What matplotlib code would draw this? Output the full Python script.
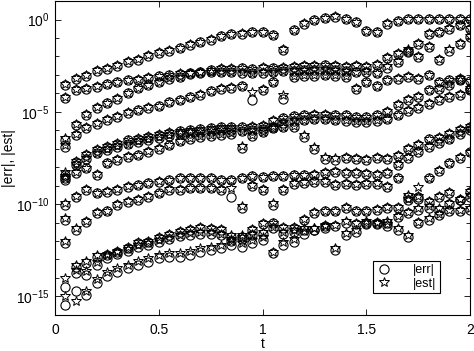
import matplotlib
matplotlib.use('Agg')
import matplotlib.pyplot as plt
from matplotlib.ticker import FixedLocator, FixedFormatter, NullFormatter
from matplotlib.lines import Line2D
import numpy as np

plt.rcParams['font.family'] = ['Liberation Sans', 'DejaVu Sans']
plt.rcParams['mathtext.default'] = 'regular'

# time instants
t = [0.05, 0.10, 0.15, 0.20, 0.25, 0.30, 0.35, 0.40, 0.45, 0.50,
     0.55, 0.60, 0.65, 0.70, 0.75, 0.80, 0.85, 0.90, 0.95, 1.00,
     1.05, 1.10, 1.15, 1.20, 1.25, 1.30, 1.35, 1.40, 1.45, 1.50,
     1.55, 1.60, 1.65, 1.70, 1.75, 1.80, 1.85, 1.90, 1.95, 2.00]

# log10 of |err| and |est| for each component
err_s1 = [-3.57, -3.23, -3.06, -2.80, -2.66, -2.50, -2.28, -2.18, -1.95, -1.80,
          -1.68, -1.55, -1.37, -1.23, -1.10, -0.92, -0.80, -0.77, -0.70, -0.70,
          -0.86, -1.64, -0.59, -0.23, -0.05, 0.09, 0.16, 0.04, -0.15, -0.63,
          -0.69, -0.23, -0.09, 0.04, 0.04, 0.04, 0.04, 0.04, 0.04, 0.04]
est_s1 = [-3.50, -3.18, -3.02, -2.76, -2.62, -2.46, -2.25, -2.15, -1.93, -1.78,
          -1.66, -1.53, -1.35, -1.21, -1.08, -0.90, -0.78, -0.75, -0.68, -0.68,
          -0.84, -1.58, -0.57, -0.21, -0.03, 0.10, 0.17, 0.05, -0.13, -0.61,
          -0.67, -0.21, -0.08, 0.05, 0.05, 0.05, 0.05, 0.05, 0.05, 0.05]

err_s2 = [-4.27, -3.84, -3.75, -3.66, -3.51, -3.39, -3.30, -3.27, -3.15, -3.08,
          -3.03, -2.94, -2.90, -2.88, -2.86, -2.85, -2.85, -2.88, -2.90, -2.88,
          -2.85, -2.80, -2.78, -2.75, -2.72, -2.72, -2.75, -2.80, -2.85, -2.82,
          -2.90, -2.60, -2.30, -1.77, -2.04, -1.50, -2.20, -1.68, -1.32, -0.95]
est_s2 = [-4.20, -3.78, -3.70, -3.62, -3.48, -3.36, -3.28, -3.24, -3.13, -3.06,
          -3.01, -2.92, -2.88, -2.86, -2.84, -2.83, -2.83, -2.86, -2.88, -2.86,
          -2.83, -2.78, -2.76, -2.73, -2.70, -2.70, -2.73, -2.78, -2.83, -2.80,
          -2.88, -2.50, -2.25, -1.72, -1.98, -1.45, -2.12, -1.62, -1.28, -0.92]

err_s3 = [-6.55, -5.73, -5.19, -4.77, -4.54, -4.28, -4.00, -3.73, -3.57, -3.39,
          -3.21, -3.12, -2.94, -2.85, -2.76, -2.67, -2.67, -2.65, -2.70, -2.60,
          -2.62, -2.60, -2.55, -2.50, -2.50, -2.48, -2.50, -2.55, -2.50, -2.55,
          -2.45, -2.10, -1.86, -1.68, -1.32, -0.77, -0.69, -0.50, -0.32, -0.50]
est_s3 = [-6.40, -5.65, -5.12, -4.72, -4.50, -4.25, -3.97, -3.70, -3.55, -3.37,
          -3.19, -3.10, -2.92, -2.83, -2.74, -2.65, -2.65, -2.63, -2.68, -2.58,
          -2.60, -2.58, -2.53, -2.48, -2.48, -2.46, -2.48, -2.53, -2.48, -2.53,
          -2.40, -2.02, -1.80, -1.62, -1.25, -0.72, -0.65, -0.47, -0.30, -0.47]

err_s4 = [-6.90, -6.27, -5.90, -5.67, -5.43, -5.27, -5.06, -4.92, -4.77, -4.70,
          -4.47, -4.38, -4.20, -4.07, -3.88, -3.75, -3.70, -3.62, -4.38, -3.80,
          -3.39, -4.29, -3.10, -3.05, -3.05, -3.00, -3.05, -3.10, -3.75, -3.39,
          -3.62, -3.30, -3.20, -3.10, -3.20, -3.00, -3.40, -3.30, -3.20, -3.35]
est_s4 = [-6.80, -6.20, -5.85, -5.62, -5.40, -5.24, -5.03, -4.90, -4.75, -4.68,
          -4.45, -4.36, -4.18, -4.05, -3.86, -3.73, -3.68, -3.60, -3.93, -3.78,
          -3.37, -4.10, -3.08, -3.03, -3.03, -2.98, -3.03, -3.08, -3.70, -3.37,
          -3.60, -3.28, -3.18, -3.08, -3.18, -2.98, -3.38, -3.28, -3.18, -3.33]

err_s5 = [-8.43, -7.71, -7.35, -7.08, -6.90, -6.72, -6.54, -6.45, -6.36, -6.23,
          -6.13, -6.05, -6.00, -5.95, -5.90, -5.85, -5.85, -5.85, -5.80, -5.75,
          -5.50, -5.35, -5.25, -5.20, -5.15, -5.15, -5.20, -5.20, -5.30, -5.30,
          -5.20, -5.00, -4.65, -4.38, -4.20, -3.84, -3.75, -3.57, -3.30, -3.75]
est_s5 = [-8.27, -7.65, -7.30, -7.04, -6.86, -6.69, -6.51, -6.42, -6.33, -6.20,
          -6.10, -6.02, -5.97, -5.92, -5.87, -5.82, -5.82, -5.82, -5.77, -5.72,
          -5.47, -5.32, -5.22, -5.17, -5.12, -5.12, -5.17, -5.17, -5.27, -5.27,
          -5.17, -4.97, -4.60, -4.33, -4.15, -3.80, -3.70, -3.52, -3.26, -3.70]

err_s6 = [-8.70, -8.34, -8.07, -8.43, -7.80, -7.62, -7.44, -7.35, -7.17, -6.99,
          -6.81, -6.60, -6.45, -6.35, -6.30, -6.25, -6.20, -6.97, -6.30, -6.10,
          -5.80, -5.60, -5.50, -5.45, -5.40, -5.40, -5.45, -5.50, -5.55, -5.55,
          -5.50, -5.40, -5.20, -4.95, -4.77, -4.60, -4.38, -4.20, -4.10, -3.84]
est_s6 = [-8.60, -8.28, -8.02, -8.35, -7.76, -7.58, -7.41, -7.32, -7.14, -6.96,
          -6.78, -6.57, -6.42, -6.32, -6.27, -6.22, -6.17, -6.85, -6.27, -6.07,
          -5.77, -5.57, -5.47, -5.42, -5.37, -5.37, -5.42, -5.47, -5.52, -5.52,
          -5.47, -5.37, -5.15, -4.90, -4.72, -4.55, -4.33, -4.15, -4.05, -3.80]

err_s7 = [-8.60, -7.90, -7.55, -7.25, -7.05, -6.90, -6.75, -6.62, -6.52, -6.40,
          -6.30, -6.20, -6.15, -6.10, -6.05, -6.00, -6.00, -6.05, -6.00, -5.95,
          -5.90, -5.85, -5.80, -6.36, -6.99, -7.53, -7.62, -7.50, -7.55, -7.60,
          -7.50, -7.55, -7.40, -7.00, -6.80, -6.50, -6.40, -6.20, -6.00, -5.80]
est_s7 = [-8.50, -7.85, -7.50, -7.21, -7.01, -6.87, -6.72, -6.59, -6.49, -6.37,
          -6.27, -6.17, -6.12, -6.07, -6.02, -5.97, -5.97, -6.02, -5.97, -5.92,
          -5.87, -5.82, -5.77, -6.25, -6.90, -7.45, -7.50, -7.45, -7.50, -7.55,
          -7.45, -7.50, -7.35, -6.95, -6.75, -6.45, -6.35, -6.15, -5.95, -5.75]

err_s8 = [-10.05, -9.60, -9.24, -9.42, -9.33, -9.24, -9.06, -8.97, -8.88, -8.79,
          -8.70, -8.61, -8.61, -8.61, -8.61, -8.70, -8.70, -8.60, -8.50, -8.55,
          -8.50, -8.50, -8.45, -8.45, -8.40, -8.30, -8.25, -8.30, -8.30, -8.35,
          -8.40, -8.30, -7.90, -7.50, -7.20, -6.90, -6.70, -6.50, -6.20, -6.00]
est_s8 = [-9.95, -9.55, -9.20, -9.38, -9.29, -9.20, -9.03, -8.94, -8.85, -8.76,
          -8.67, -8.58, -8.58, -8.58, -8.58, -8.67, -8.67, -8.57, -8.47, -8.52,
          -8.47, -8.47, -8.42, -8.42, -8.37, -8.27, -8.22, -8.27, -8.27, -8.32,
          -8.37, -8.27, -7.85, -7.45, -7.15, -6.85, -6.65, -6.45, -6.15, -5.95]

err_s9 = [-10.86, -11.40, -10.95, -10.50, -10.40, -10.05, -9.87, -9.78, -9.60, -9.42,
          -9.24, -9.24, -9.15, -9.15, -9.15, -9.24, -9.60, -10.23, -9.00, -9.24,
          -10.05, -9.24, -8.90, -8.85, -8.80, -8.80, -8.97, -8.90, -8.97, -8.90,
          -8.90, -9.06, -8.60, -9.60, -9.70, -8.60, -8.20, -7.80, -7.50, -7.20]
est_s9 = [-10.75, -11.30, -10.90, -10.45, -10.35, -10.00, -9.83, -9.74, -9.56, -9.38,
          -9.20, -9.20, -9.11, -9.11, -9.11, -9.20, -9.15, -10.10, -8.96, -9.20,
          -9.95, -9.20, -8.86, -8.81, -8.76, -8.76, -8.93, -8.86, -8.93, -8.86,
          -8.86, -9.02, -8.56, -9.50, -9.06, -8.56, -8.16, -7.76, -7.46, -7.16]

err_s10 = [-12.10, -13.40, -13.20, -12.85, -12.75, -12.58, -12.40, -12.13, -12.04, -11.85,
           -11.68, -11.50, -11.40, -11.30, -11.35, -11.40, -11.76, -11.76, -11.40, -11.10,
           -11.04, -11.30, -11.30, -10.86, -10.50, -10.40, -10.40, -10.20, -10.40, -10.40,
           -10.30, -10.20, -10.20, -9.80, -9.60, -9.90, -9.60, -9.40, -9.80, -9.33]
est_s10 = [-12.00, -13.30, -13.10, -12.78, -12.68, -12.52, -12.34, -12.08, -11.98, -11.80,
           -11.63, -11.45, -11.35, -11.25, -11.30, -11.35, -11.70, -11.70, -11.35, -11.05,
           -11.00, -11.25, -11.25, -10.80, -10.45, -10.35, -10.35, -10.15, -10.35, -10.35,
           -10.25, -10.15, -10.15, -9.75, -9.55, -9.85, -9.55, -9.35, -9.75, -9.28]

err_s11 = [-14.50, -13.75, -13.84, -13.30, -12.90, -12.70, -12.55, -12.30, -12.20, -12.05,
           -11.90, -11.75, -11.65, -11.60, -11.60, -11.70, -12.00, -11.90, -11.70, -11.60,
           -11.30, -11.60, -11.50, -11.40, -11.40, -11.20, -11.20, -11.00, -11.10, -11.00,
           -11.04, -11.00, -10.70, -10.50, -10.30, -10.20, -10.30, -10.00, -9.80, -9.60]
est_s11 = [-14.00, -13.55, -13.65, -13.15, -12.78, -12.58, -12.44, -12.20, -12.10, -11.96,
           -11.82, -11.67, -11.57, -11.52, -11.52, -11.62, -11.90, -11.80, -11.60, -11.50,
           -11.22, -11.50, -11.40, -11.30, -11.30, -11.12, -11.12, -10.92, -11.00, -10.92,
           -10.96, -10.92, -10.62, -10.42, -10.22, -10.12, -10.22, -9.92, -9.72, -9.52]

err_s12 = [-15.46, -14.70, -14.90, -14.30, -13.90, -13.66, -13.48, -13.30, -13.12, -12.94,
           -12.85, -12.85, -12.76, -12.58, -12.50, -12.40, -12.20, -12.30, -12.10, -11.95,
           -12.66, -12.20, -12.04, -11.60, -11.40, -11.30, -12.50, -11.70, -11.50, -11.10,
           -11.10, -11.20, -11.40, -11.76, -11.04, -10.86, -10.60, -10.40, -10.40, -10.30]
est_s12 = [-14.97, -15.25, -14.70, -14.05, -13.68, -13.45, -13.28, -13.10, -12.92, -12.74,
           -12.65, -12.65, -12.56, -12.40, -12.32, -12.22, -12.02, -12.12, -11.95, -11.80,
           -12.60, -12.05, -11.90, -11.45, -11.28, -11.18, -12.40, -11.58, -11.38, -11.00,
           -11.00, -11.10, -11.30, -11.65, -10.95, -10.78, -10.52, -10.32, -10.32, -10.22]

err_all = [err_s1, err_s2, err_s3, err_s4, err_s5, err_s6,
           err_s7, err_s8, err_s9, err_s10, err_s11, err_s12]
est_all = [est_s1, est_s2, est_s3, est_s4, est_s5, est_s6,
           est_s7, est_s8, est_s9, est_s10, est_s11, est_s12]

fig = plt.figure(figsize=(4.74, 3.51), dpi=100)
ax = fig.add_axes([0.116, 0.103, 0.876, 0.894])

mk = dict(linestyle='none', markerfacecolor='none', markeredgecolor='k')
for e, s in zip(err_all, est_all):
    ax.plot(t, 10.0 ** np.array(e), marker='o', markersize=6.6,
            markeredgewidth=0.8, **mk)
    ax.plot(t, 10.0 ** np.array(s), marker='*', markersize=7.8,
            markeredgewidth=0.7, **mk)

ax.set_yscale('log')
ax.set_xlim(0, 2)
ax.set_ylim(1e-16, 1e1)

ax.set_xticks([0, 0.5, 1, 1.5, 2])
ax.set_xticklabels(['0', '0.5', '1', '1.5', '2'])
ax.yaxis.set_major_locator(FixedLocator([1e-15, 1e-10, 1e-5, 1e0]))
ax.yaxis.set_major_formatter(FixedFormatter(['$10^{-15}$', '$10^{-10}$',
                                             '$10^{-5}$', '$10^{0}$']))
minor = [10.0 ** k for k in range(-16, 2) if k % 5 != 0]
ax.yaxis.set_minor_locator(FixedLocator(minor))
ax.yaxis.set_minor_formatter(NullFormatter())

ax.tick_params(which='both', direction='in', top=True, right=True,
               labelsize=10, width=0.6)
ax.tick_params(which='major', length=4, pad=6)
ax.tick_params(axis='y', which='major', pad=4)
ax.tick_params(which='minor', length=3)
for sp in ax.spines.values():
    sp.set_linewidth(0.8)

ax.set_xlabel('t', fontsize=10)
ax.xaxis.set_label_coords(0.5, -0.072)
ax.set_ylabel('|err|, |est|', fontsize=10)
ax.yaxis.set_label_coords(-0.094, 0.5)

handles = [Line2D([], [], marker='o', markersize=6.6, markeredgewidth=0.8, **mk),
           Line2D([], [], marker='*', markersize=7.8, markeredgewidth=0.7, **mk)]
leg = ax.legend(handles, ['|err|', '|est|'], loc='lower left',
                bbox_to_anchor=(0.75, 0.05), fontsize=9, fancybox=False,
                framealpha=1, edgecolor='k', handletextpad=1.7,
                handlelength=1.3, borderpad=0.25, labelspacing=0.12)
leg.get_frame().set_linewidth(0.8)

fig.savefig('out.png', dpi=100)
